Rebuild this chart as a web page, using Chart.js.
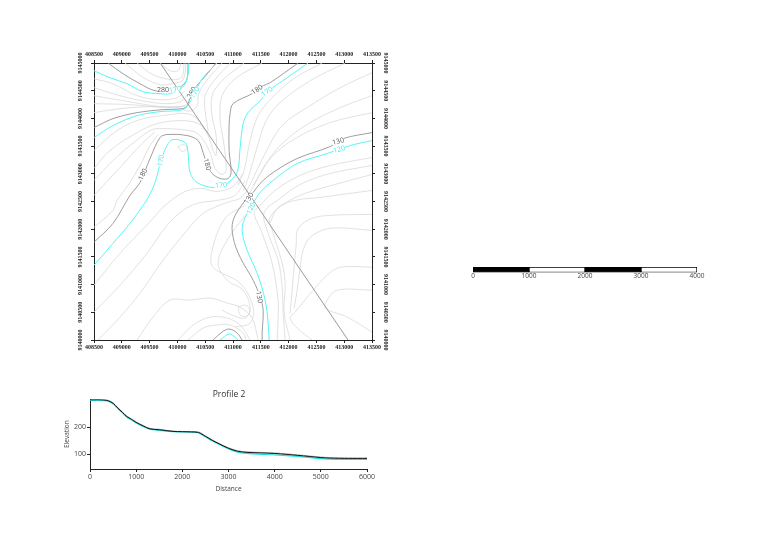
<!DOCTYPE html>
<html>
<head>
<meta charset="utf-8">
<title>Profile 2</title>
<script src="https://cdn.jsdelivr.net/npm/chart.js@4"></script>
<style>
    body { margin: 0; background: #fff; }
    .box { position: absolute; }
</style>
</head>
<body>
<div class="box" style="left:60px;top:40px;width:340px;height:320px"><canvas id="mapChart"></canvas></div>
<div class="box" style="left:460px;top:254px;width:250px;height:30px"><canvas id="scaleChart"></canvas></div>
<div class="box" style="left:60px;top:385px;width:338px;height:115px"><canvas id="profileChart"></canvas></div>
<script>
// map origin, contour points below are metres east / north of it
const originEast = 408500;
const originNorth = 9140000;

const profileLine = [[1190, 5000], [4570, 0]];

// labelled contours
const dark280 = [[252,5000],[522,4806],[828,4626],[1098,4500],[1404,4500],[1584,4590],[1674,4716],[1692,5000]];
const cyan270 = [[0,4860],[288,4734],[594,4626],[882,4482],[1188,4446],[1368,4446],[1584,4554],[1674,4716],[1710,5000]];
const darkSaddle = [[0,3834],[342,3996],[774,4104],[1242,4158],[1584,4176],[1674,4230],[1728,4374],[1818,4554],[1962,4716],[2196,5000]];
const cyanSaddle = [[0,3654],[342,3870],[774,4050],[1188,4122],[1602,4158],[1710,4266],[1782,4410],[1962,4734],[2214,5000]];
const dark180 = [[0,1764],[342,2106],[648,2610],[828,2844],[1008,3276],[1188,3654],[1314,3708],[1674,3690],[1872,3600],[1962,3384],[2034,3168],[2124,3006],[2268,2916],[2412,2916],[2466,3024],[2430,3420],[2430,3870],[2448,4086],[2502,4266],[2844,4446],[3042,4590],[3168,4644],[3672,5000]];
const cyan170 = [[3852,5000],[3474,4734],[3150,4500],[2988,4320],[2772,4104],[2682,3906],[2628,3474],[2574,3024],[2394,2826],[2286,2790],[2124,2754],[1854,2844],[1728,3024],[1692,3384],[1638,3564],[1422,3618],[1314,3510],[1206,3240],[1098,2844],[954,2538],[648,2106],[342,1746],[0,1350]];
const dark130 = [[5000,3744],[4482,3636],[4248,3492],[3654,3276],[3222,3024],[2988,2826],[2862,2664],[2718,2520],[2502,2160],[2502,1854],[2628,1494],[2862,1080],[2988,774],[3042,540],[3024,126],[3024,0]];
const cyan120 = [[5000,3600],[4608,3510],[4194,3366],[3654,3186],[3222,2880],[2988,2664],[2862,2466],[2718,2214],[2664,1980],[2754,1620],[2934,1206],[3078,720],[3132,306],[3150,0]];
const darkBump = [[2142,0],[2304,144],[2430,198],[2574,126],[2664,0]];
const cyanBump = [[2268,0],[2430,108],[2556,36],[2592,0]];

// thin contours
const thinContours = [
    [[0,4716],[342,4626],[774,4410],[1188,4338],[1494,4374],[1638,4500]],
    [[0,4554],[468,4410],[954,4302],[1368,4266],[1584,4320],[1692,4446]],
    [[0,4410],[522,4320],[1062,4230],[1494,4194],[1656,4248]],
    [[0,4266],[648,4248],[1314,4194],[1638,4230]],
    [[0,4104],[468,4176],[1008,4212],[1602,4212]],
    [[774,5000],[1062,4788],[1422,4698],[1584,4752],[1620,5000]],
    [[558,5000],[864,4752],[1188,4608],[1404,4626],[1602,4698],[1656,5000]],
    [[1188,5000],[1368,4860],[1512,4860],[1566,5000]],
    [[2304,5000],[2052,4716],[1890,4464],[1854,4230],[1764,4140],[1620,4140]],
    [[0,3420],[414,3780],[828,3978],[1368,4068],[1674,4086],[1854,3996],[1998,3780],[2052,3744],[1998,4140],[1998,4410],[2160,4680],[2448,5000]],
    [[0,3096],[288,3420],[774,3744],[1134,3906],[1602,3960],[1908,3888],[2052,3690],[2142,3420],[2196,3330],[2196,3690],[2124,4050],[2124,4410],[2304,4680],[2700,5000]],
    [[0,2880],[342,3240],[648,3510],[1008,3780],[1152,3816],[1728,3780],[1908,3690],[2088,3384],[2178,3096],[2304,2988],[2376,3060],[2340,3510],[2268,3996],[2304,4410],[2538,4716],[3024,5000]],
    [[0,2610],[468,3114],[882,3564],[1098,3760]],
    [[0,2034],[342,2340],[414,2520],[612,2790],[828,3150],[1008,3510],[1152,3708]],
    [[4104,5000],[3618,4734],[3204,4374],[2952,4050],[2808,3600],[2700,3060],[2592,2790]],
    [[4518,5000],[3888,4680],[3348,4284],[3096,3960],[2916,3420],[2772,2916],[2682,2700]],
    [[5000,4824],[4428,4554],[3888,4230],[3384,3870],[3060,3330],[2844,2880],[2736,2664]],
    [[5000,4410],[4428,4194],[3798,3870],[3348,3510],[3078,3150],[2808,2664]],
    [[5000,4104],[4248,3924],[3618,3636],[3168,3276],[2862,2790]],
    [[5000,3294],[4248,3150],[3708,2970],[3258,2700],[2988,2430],[2880,2300],[3024,1926],[3204,1386],[3312,720],[3312,414],[3294,0]],
    [[5000,3150],[4248,3006],[3708,2808],[3348,2556],[3060,2300],[3132,1926],[3312,1440],[3384,954],[3402,486],[3438,0]],
    [[5000,2988],[4338,2808],[3798,2646],[3438,2466],[3160,2200],[3222,1926],[3384,1386],[3438,1026],[3420,486],[3528,0]],
    [[5000,2700],[4068,2574],[3618,2520],[3312,2394],[3168,2124]],
    [[5000,2268],[4248,2250],[3924,2196],[3672,2016],[3636,1710],[3600,1350],[3564,900],[3528,486]],
    [[5000,1980],[4248,2016],[3888,1854],[3762,1620],[3708,1314],[3654,900],[3600,576]],
    [[5000,1314],[4428,1314],[4194,1170],[3942,900],[3618,504],[3528,396],[3654,216],[3924,0]],
    [[5000,900],[4374,900],[4194,720],[4158,576],[4554,414],[5000,144]],
    [[0,990],[468,1566],[774,1890],[1062,2196],[1242,2394],[1602,2664],[1908,2736],[2214,2682],[2502,2772],[2682,3006]],
    [[0,504],[468,990],[954,1566],[1314,2070],[1602,2340],[1854,2466],[2214,2520],[2538,2610],[2718,2880]],
    [[72,0],[468,414],[828,846],[1242,1440],[1674,1980],[1962,2286],[2394,2484],[2628,2556],[2754,2700]],
    [[774,0],[1062,414],[1368,720],[1728,720],[2088,756],[2394,666],[2628,594],[2844,396],[2952,0]],
    [[1512,0],[1782,270],[2088,414],[2394,396],[2628,270],[2808,0]],
    [[1692,0],[1962,216],[2196,270],[2448,270],[2682,126],[2736,0]],
    [[2718,2430],[2358,2196],[2124,1620],[2142,1314],[2628,1026],[2862,594],[2808,306],[2538,234]],
    [[2718,2250],[2394,1800],[2232,1386],[2394,1080],[2682,900],[2808,576],[2718,396],[2484,450],[2304,540]],
    [[2592,594],[2718,630],[2808,540],[2754,432],[2628,450],[2592,594]],
    [[1512,3492],[1620,3528],[1674,3456],[1584,3402],[1512,3492]]
];

const contourLabels = ['280', '170', '280', '170', '180', '170', '130', '120', '180', '170', '180', '170', '130', '120', '130'];
const contourLabelEast = [1242, 1458, 1764, 1818, 2934, 3114, 4392, 4410, 882, 1206, 2034, 2286, 2790, 2826, 2970];
const contourLabelNorth = [4518, 4518, 4464, 4464, 4518, 4482, 3582, 3438, 2988, 3240, 3168, 2790, 2556, 2376, 774];
const contourLabelAngle = [0, -10, -60, -60, -35, -35, -15, -15, -65, -80, 75, -5, -60, -65, 80];
const contourLabelDark = [true, false, true, false, true, false, true, false, true, false, true, false, true, false, true];

const mapTicksEast = [408500, 409000, 409500, 410000, 410500, 411000, 411500, 412000, 412500, 413000, 413500];
const mapTicksNorth = [9140000, 9140500, 9141000, 9141500, 9142000, 9142500, 9143000, 9143500, 9144000, 9144500, 9145000];

const scaleSegments = [1000, 1000, 1000, 1000];
const scaleColors = ['#000000', '#ffffff', '#000000', '#ffffff'];

const distance = [0, 100, 200, 300, 400, 500, 600, 700, 800, 900, 1000, 1150, 1300, 1500, 1800, 2200, 2350, 2500, 2650, 2800, 3000, 3200, 3400, 3700, 4000, 4500, 5000, 5200, 5600, 6000];
const elevationBlack = [300, 300, 300, 299, 296, 287, 270, 254, 238, 228, 217, 204, 193, 190, 184, 182, 180, 166, 151, 138, 122, 111, 107, 105, 103, 96, 88, 86, 85, 85];
const elevationCyan = [298, 298, 298, 297, 294, 285, 268, 252, 236, 226, 215, 202, 192, 188, 183, 181, 178, 164, 149, 136, 120, 108, 103, 100, 98, 92, 84, 82, 81, 81];
const elevationGrey = [302, 302, 302, 301, 298, 289, 272, 256, 240, 230, 219, 206, 195, 192, 185, 183, 182, 168, 153, 140, 124, 113, 109, 107, 105, 98, 90, 88, 86, 86];
const elevationTicks = [100, 200];

const GREY = '#d9d9d9';
const DARK = '#939393';
const CYAN = '#55f6f6';
const mapFont = { family: "'Liberation Serif'", size: 6, weight: 'bold' };
const plotFont = { family: "'Open Sans'", size: 7 };

function contourDataset(points, color, width, order) {
    return {
        data: points.map(p => ({ x: originEast + p[0], y: originNorth + p[1] })),
        borderColor: color,
        borderWidth: width,
        pointRadius: 0,
        showLine: true,
        tension: 0.35,
        order: order
    };
}

function mapAxis(position, size, ticks, extra) {
    const horizontal = position === 'top' || position === 'bottom';
    return Object.assign({
        type: 'linear',
        position: position,
        axis: horizontal ? 'x' : 'y',
        min: ticks[0],
        max: ticks[ticks.length - 1],
        afterFit: scale => { if (horizontal) { scale.height = size; } else { scale.width = size; } },
        afterBuildTicks: scale => { scale.ticks = ticks.map(v => ({ value: v })); },
        grid: { drawOnChartArea: false, tickLength: 3, color: '#222', tickWidth: 1 },
        border: { display: true, color: '#222', width: 1 }
    }, extra);
}

function mapTickOptions(padding, extra) {
    return Object.assign({
        font: mapFont,
        color: '#222',
        padding: padding,
        autoSkip: false,
        callback: value => String(value)
    }, extra);
}

const contourLabelPlugin = {
    id: 'contourLabelPlugin',
    afterDatasetsDraw(chart) {
        const ctx = chart.ctx;
        ctx.save();
        ctx.font = "7px 'Open Sans'";
        ctx.textAlign = 'center';
        ctx.textBaseline = 'middle';
        contourLabels.forEach((text, i) => {
            ctx.save();
            ctx.translate(chart.scales.x.getPixelForValue(originEast + contourLabelEast[i]),
                chart.scales.y.getPixelForValue(originNorth + contourLabelNorth[i]));
            ctx.rotate(contourLabelAngle[i] * Math.PI / 180);
            ctx.fillStyle = '#fff';
            ctx.fillRect(-6, -2.5, 12, 5);
            ctx.fillStyle = contourLabelDark[i] ? '#555' : '#45e8e8';
            ctx.fillText(text, 0, 0);
            ctx.restore();
        });
        ctx.restore();
    }
};

// lower order is painted on top
const mapDatasets = thinContours.map(c => contourDataset(c, GREY, 0.8, 3));
[dark280, darkSaddle, dark180, dark130, darkBump].forEach(c => mapDatasets.push(contourDataset(c, DARK, 0.9, 2)));
[cyan270, cyanSaddle, cyan170, cyan120, cyanBump].forEach(c => mapDatasets.push(contourDataset(c, CYAN, 1, 1)));
mapDatasets.push(Object.assign(contourDataset(profileLine, '#9a9a9a', 1, 0), { tension: 0 }));

new Chart(document.getElementById('mapChart'), {
    type: 'scatter',
    data: { datasets: mapDatasets },
    plugins: [contourLabelPlugin],
    options: {
        responsive: true,
        maintainAspectRatio: false,
        animation: false,
        layout: { padding: 0 },
        plugins: { legend: { display: false }, tooltip: { enabled: false } },
        scales: {
            x: mapAxis('bottom', 20, mapTicksEast, { ticks: mapTickOptions(1, { maxRotation: 0, minRotation: 0 }) }),
            xTop: mapAxis('top', 23, mapTicksEast, { ticks: mapTickOptions(2, { maxRotation: 0, minRotation: 0 }) }),
            y: mapAxis('left', 34, mapTicksNorth, { ticks: mapTickOptions(0.5, { minRotation: 90, maxRotation: 90, crossAlign: 'center' }) }),
            yRight: mapAxis('right', 28, mapTicksNorth, { ticks: mapTickOptions(0.5, { minRotation: -90, maxRotation: -90, crossAlign: 'center' }) })
        }
    }
});

new Chart(document.getElementById('scaleChart'), {
    type: 'bar',
    data: {
        labels: ['scale'],
        datasets: scaleSegments.map((length, i) => ({
            data: [length],
            backgroundColor: scaleColors[i],
            borderColor: '#000',
            borderWidth: 1,
            borderSkipped: false,
            barPercentage: 1,
            categoryPercentage: 1
        }))
    },
    options: {
        indexAxis: 'y',
        responsive: true,
        maintainAspectRatio: false,
        animation: false,
        layout: { padding: { left: 13, right: 13, top: 13 } },
        plugins: { legend: { display: false }, tooltip: { enabled: false } },
        scales: {
            y: { display: false, stacked: true },
            x: {
                stacked: true,
                min: 0,
                max: 4000,
                afterFit: scale => { scale.height = 11.5; },
                grid: { display: false, drawTicks: false, tickLength: 0 },
                border: { display: false },
                ticks: { stepSize: 1000, font: { family: "'Open Sans'", size: 6.5 }, color: '#444', padding: 0, maxRotation: 0, callback: value => String(value) }
            }
        }
    }
});

function profileDataset(values, color, width, order) {
    return {
        data: values.map((v, i) => ({ x: distance[i], y: v })),
        borderColor: color,
        borderWidth: width,
        pointRadius: 0,
        showLine: true,
        tension: 0.3,
        order: order
    };
}

new Chart(document.getElementById('profileChart'), {
    type: 'scatter',
    data: {
        datasets: [
            profileDataset(elevationGrey, '#b5b5b5', 1, 2),
            profileDataset(elevationCyan, '#22e0e0', 1.2, 1),
            profileDataset(elevationBlack, '#111', 1, 0)
        ]
    },
    options: {
        responsive: true,
        maintainAspectRatio: false,
        animation: false,
        layout: { padding: { bottom: 5 } },
        plugins: {
            legend: { display: false },
            tooltip: { enabled: false },
            title: {
                display: true,
                text: 'Profile 2',
                color: '#333',
                font: { family: "'Open Sans'", size: 8.5, weight: 'normal' },
                padding: { top: 4, bottom: 0 }
            }
        },
        scales: {
            x: {
                min: 0,
                max: 6000,
                afterFit: scale => { scale.height = 26; },
                grid: { drawOnChartArea: false, tickLength: 3, color: '#222' },
                border: { color: '#222' },
                ticks: { stepSize: 1000, font: plotFont, color: '#444', padding: 1, maxRotation: 0, callback: value => String(value) },
                title: { display: true, text: 'Distance', font: { family: "'Open Sans'", size: 6.5 }, color: '#444', padding: 2 }
            },
            y: {
                min: 46,
                max: 302,
                afterFit: scale => { scale.width = 30; },
                afterBuildTicks: scale => { scale.ticks = elevationTicks.map(v => ({ value: v })); },
                grid: { drawOnChartArea: false, tickLength: 3, color: '#222' },
                border: { color: '#222' },
                ticks: { font: plotFont, color: '#444', padding: 1 },
                title: { display: true, text: 'Elevation', font: { family: "'Open Sans'", size: 6.5 }, color: '#444', padding: 3 }
            },
            // empty axis, keeps the title centred over the plot
            ySpacer: {
                position: 'right',
                min: 46,
                max: 302,
                afterFit: scale => { scale.width = 31; },
                afterBuildTicks: scale => { scale.ticks = []; },
                grid: { display: false, drawTicks: false },
                border: { display: false },
                ticks: { display: false }
            }
        }
    }
});
</script>
</body>
</html>
